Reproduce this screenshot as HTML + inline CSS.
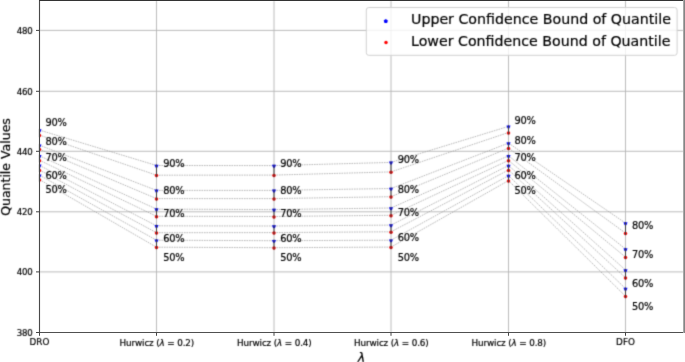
<!DOCTYPE html>
<html><head><meta charset="utf-8"><style>html,body{margin:0;padding:0;background:#fff;}svg{display:block;}</style></head>
<body><svg width="685" height="362" viewBox="0 0 685 362">
<rect x="0" y="0" width="685" height="362" fill="#fff"/>
<filter id="bl" x="0" y="0" width="685" height="362" filterUnits="userSpaceOnUse" color-interpolation-filters="sRGB"><feConvolveMatrix order="3" kernelMatrix="0.0225 0.1050 0.0225 0.1050 0.4900 0.1050 0.0225 0.1050 0.0225" divisor="1" edgeMode="none"/></filter><g filter="url(#bl)">
<path d="M39.50 0.4V332.2M156.50 0.4V332.2M274.00 0.4V332.2M391.00 0.4V332.2M508.50 0.4V332.2M625.50 0.4V332.2M39.5 271.90H683.6M39.5 211.80H683.6M39.5 151.30H683.6M39.5 91.30H683.6M39.5 30.40H683.6" stroke="#b4b4b4" stroke-width="0.9" fill="none"/>
<path d="M39.50 130.10L156.50 165.50M39.50 135.10L156.50 175.20M39.50 145.20L156.50 190.40M39.50 149.20L156.50 198.60M39.50 155.80L156.50 209.10M39.50 160.30L156.50 216.30M39.50 165.40L156.50 225.80M39.50 170.10L156.50 232.70M39.50 175.20L156.50 240.20M39.50 179.60L156.50 247.20M156.50 165.50L274.00 165.60M156.50 175.20L274.00 175.10M156.50 190.40L274.00 190.40M156.50 198.60L274.00 198.60M156.50 209.10L274.00 209.60M156.50 216.30L274.00 216.50M156.50 225.80L274.00 226.00M156.50 232.70L274.00 232.60M156.50 240.20L274.00 240.70M156.50 247.20L274.00 247.70M274.00 165.60L391.00 162.40M274.00 175.10L391.00 171.90M274.00 190.40L391.00 188.50M274.00 198.60L391.00 196.70M274.00 209.60L391.00 208.00M274.00 216.50L391.00 215.30M274.00 226.00L391.00 225.10M274.00 232.60L391.00 231.80M274.00 240.70L391.00 240.20M274.00 247.70L391.00 247.10M391.00 162.40L508.50 126.40M391.00 171.90L508.50 132.50M391.00 188.50L508.50 143.10M391.00 196.70L508.50 148.10M391.00 208.00L508.50 155.80M391.00 215.30L508.50 160.40M391.00 225.10L508.50 165.50M391.00 231.80L508.50 170.00M391.00 240.20L508.50 175.60M391.00 247.10L508.50 180.60M508.50 143.10L625.50 223.10M508.50 148.10L625.50 233.10M508.50 155.80L625.50 249.00M508.50 160.40L625.50 257.10M508.50 165.50L625.50 270.00M508.50 170.00L625.50 277.70M508.50 175.60L625.50 288.60M508.50 180.60L625.50 296.20" stroke="#9a9a9a" stroke-width="0.7" stroke-dasharray="1.6 0.9" fill="none"/>
<clipPath id="ax"><rect x="39.5" y="0" width="644.1" height="332.2"/></clipPath>
<g clip-path="url(#ax)">
<path d="M37.50 129.30H41.50L40.50 132.00L39.50 132.40L38.50 132.00Z" fill="#0000ff"/>
<circle cx="39.50" cy="135.5" r="1.75" fill="#ff0000"/>
<path d="M37.50 144.40H41.50L40.50 147.10L39.50 147.50L38.50 147.10Z" fill="#0000ff"/>
<circle cx="39.50" cy="149.6" r="1.75" fill="#ff0000"/>
<path d="M37.50 155.00H41.50L40.50 157.70L39.50 158.10L38.50 157.70Z" fill="#0000ff"/>
<circle cx="39.50" cy="160.7" r="1.75" fill="#ff0000"/>
<path d="M37.50 164.60H41.50L40.50 167.30L39.50 167.70L38.50 167.30Z" fill="#0000ff"/>
<circle cx="39.50" cy="170.5" r="1.75" fill="#ff0000"/>
<path d="M37.50 174.40H41.50L40.50 177.10L39.50 177.50L38.50 177.10Z" fill="#0000ff"/>
<circle cx="39.50" cy="180.0" r="1.75" fill="#ff0000"/>
<path d="M154.50 164.70H158.50L157.50 167.40L156.50 167.80L155.50 167.40Z" fill="#0000ff"/>
<circle cx="156.50" cy="175.6" r="1.75" fill="#ff0000"/>
<path d="M154.50 189.60H158.50L157.50 192.30L156.50 192.70L155.50 192.30Z" fill="#0000ff"/>
<circle cx="156.50" cy="199.0" r="1.75" fill="#ff0000"/>
<path d="M154.50 208.30H158.50L157.50 211.00L156.50 211.40L155.50 211.00Z" fill="#0000ff"/>
<circle cx="156.50" cy="216.7" r="1.75" fill="#ff0000"/>
<path d="M154.50 225.00H158.50L157.50 227.70L156.50 228.10L155.50 227.70Z" fill="#0000ff"/>
<circle cx="156.50" cy="233.1" r="1.75" fill="#ff0000"/>
<path d="M154.50 239.40H158.50L157.50 242.10L156.50 242.50L155.50 242.10Z" fill="#0000ff"/>
<circle cx="156.50" cy="247.6" r="1.75" fill="#ff0000"/>
<path d="M272.00 164.80H276.00L275.00 167.50L274.00 167.90L273.00 167.50Z" fill="#0000ff"/>
<circle cx="274.00" cy="175.5" r="1.75" fill="#ff0000"/>
<path d="M272.00 189.60H276.00L275.00 192.30L274.00 192.70L273.00 192.30Z" fill="#0000ff"/>
<circle cx="274.00" cy="199.0" r="1.75" fill="#ff0000"/>
<path d="M272.00 208.80H276.00L275.00 211.50L274.00 211.90L273.00 211.50Z" fill="#0000ff"/>
<circle cx="274.00" cy="216.9" r="1.75" fill="#ff0000"/>
<path d="M272.00 225.20H276.00L275.00 227.90L274.00 228.30L273.00 227.90Z" fill="#0000ff"/>
<circle cx="274.00" cy="233.0" r="1.75" fill="#ff0000"/>
<path d="M272.00 239.90H276.00L275.00 242.60L274.00 243.00L273.00 242.60Z" fill="#0000ff"/>
<circle cx="274.00" cy="248.1" r="1.75" fill="#ff0000"/>
<path d="M389.00 161.60H393.00L392.00 164.30L391.00 164.70L390.00 164.30Z" fill="#0000ff"/>
<circle cx="391.00" cy="172.3" r="1.75" fill="#ff0000"/>
<path d="M389.00 187.70H393.00L392.00 190.40L391.00 190.80L390.00 190.40Z" fill="#0000ff"/>
<circle cx="391.00" cy="197.1" r="1.75" fill="#ff0000"/>
<path d="M389.00 207.20H393.00L392.00 209.90L391.00 210.30L390.00 209.90Z" fill="#0000ff"/>
<circle cx="391.00" cy="215.7" r="1.75" fill="#ff0000"/>
<path d="M389.00 224.30H393.00L392.00 227.00L391.00 227.40L390.00 227.00Z" fill="#0000ff"/>
<circle cx="391.00" cy="232.2" r="1.75" fill="#ff0000"/>
<path d="M389.00 239.40H393.00L392.00 242.10L391.00 242.50L390.00 242.10Z" fill="#0000ff"/>
<circle cx="391.00" cy="247.5" r="1.75" fill="#ff0000"/>
<path d="M506.50 125.60H510.50L509.50 128.30L508.50 128.70L507.50 128.30Z" fill="#0000ff"/>
<circle cx="508.50" cy="132.9" r="1.75" fill="#ff0000"/>
<path d="M506.50 142.30H510.50L509.50 145.00L508.50 145.40L507.50 145.00Z" fill="#0000ff"/>
<circle cx="508.50" cy="148.5" r="1.75" fill="#ff0000"/>
<path d="M506.50 155.00H510.50L509.50 157.70L508.50 158.10L507.50 157.70Z" fill="#0000ff"/>
<circle cx="508.50" cy="160.8" r="1.75" fill="#ff0000"/>
<path d="M506.50 164.70H510.50L509.50 167.40L508.50 167.80L507.50 167.40Z" fill="#0000ff"/>
<circle cx="508.50" cy="170.4" r="1.75" fill="#ff0000"/>
<path d="M506.50 174.80H510.50L509.50 177.50L508.50 177.90L507.50 177.50Z" fill="#0000ff"/>
<circle cx="508.50" cy="181.0" r="1.75" fill="#ff0000"/>
<path d="M623.50 222.30H627.50L626.50 225.00L625.50 225.40L624.50 225.00Z" fill="#0000ff"/>
<circle cx="625.50" cy="233.5" r="1.75" fill="#ff0000"/>
<path d="M623.50 248.20H627.50L626.50 250.90L625.50 251.30L624.50 250.90Z" fill="#0000ff"/>
<circle cx="625.50" cy="257.5" r="1.75" fill="#ff0000"/>
<path d="M623.50 269.20H627.50L626.50 271.90L625.50 272.30L624.50 271.90Z" fill="#0000ff"/>
<circle cx="625.50" cy="278.1" r="1.75" fill="#ff0000"/>
<path d="M623.50 287.80H627.50L626.50 290.50L625.50 290.90L624.50 290.50Z" fill="#0000ff"/>
<circle cx="625.50" cy="296.6" r="1.75" fill="#ff0000"/>
</g>
<path d="M39.50 129.00V137.10M39.50 144.10V151.20M39.50 154.70V162.30M39.50 164.30V172.10M39.50 174.10V181.60M156.50 164.40V177.20M156.50 189.30V200.60M156.50 208.00V218.30M156.50 224.70V234.70M156.50 239.10V249.20M274.00 164.50V177.10M274.00 189.30V200.60M274.00 208.50V218.50M274.00 224.90V234.60M274.00 239.60V249.70M391.00 161.30V173.90M391.00 187.40V198.70M391.00 206.90V217.30M391.00 224.00V233.80M391.00 239.10V249.10M508.50 125.30V134.50M508.50 142.00V150.10M508.50 154.70V162.40M508.50 164.40V172.00M508.50 174.50V182.60M625.50 222.00V235.10M625.50 247.90V259.10M625.50 268.90V279.70M625.50 287.50V298.20" stroke="#3a3a3a" stroke-width="1" fill="none"/>
<text x="32.6" y="335.70" font-family="DejaVu Sans, Liberation Sans, sans-serif" stroke="#000" stroke-width="0.2" font-size="8.6" letter-spacing="-0.15" text-anchor="end" fill="#000">380</text>
<text x="32.6" y="275.10" font-family="DejaVu Sans, Liberation Sans, sans-serif" stroke="#000" stroke-width="0.2" font-size="8.6" letter-spacing="-0.15" text-anchor="end" fill="#000">400</text>
<text x="32.6" y="215.00" font-family="DejaVu Sans, Liberation Sans, sans-serif" stroke="#000" stroke-width="0.2" font-size="8.6" letter-spacing="-0.15" text-anchor="end" fill="#000">420</text>
<text x="32.6" y="154.50" font-family="DejaVu Sans, Liberation Sans, sans-serif" stroke="#000" stroke-width="0.2" font-size="8.6" letter-spacing="-0.15" text-anchor="end" fill="#000">440</text>
<text x="32.6" y="94.50" font-family="DejaVu Sans, Liberation Sans, sans-serif" stroke="#000" stroke-width="0.2" font-size="8.6" letter-spacing="-0.15" text-anchor="end" fill="#000">460</text>
<text x="32.6" y="33.60" font-family="DejaVu Sans, Liberation Sans, sans-serif" stroke="#000" stroke-width="0.2" font-size="8.6" letter-spacing="-0.15" text-anchor="end" fill="#000">480</text>
<text x="39.50" y="345.4" font-family="DejaVu Sans, Liberation Sans, sans-serif" stroke="#000" stroke-width="0.2" font-size="8.8" text-anchor="middle" fill="#000">DRO</text>
<text x="119.60" y="346.4" font-family="DejaVu Sans, Liberation Sans, sans-serif" stroke="#000" stroke-width="0.2" font-size="8.8" textLength="74.6" lengthAdjust="spacing" fill="#000">Hurwicz (<tspan font-style="italic">λ</tspan> = 0.2)</text>
<text x="237.10" y="346.4" font-family="DejaVu Sans, Liberation Sans, sans-serif" stroke="#000" stroke-width="0.2" font-size="8.8" textLength="74.6" lengthAdjust="spacing" fill="#000">Hurwicz (<tspan font-style="italic">λ</tspan> = 0.4)</text>
<text x="354.10" y="346.4" font-family="DejaVu Sans, Liberation Sans, sans-serif" stroke="#000" stroke-width="0.2" font-size="8.8" textLength="74.6" lengthAdjust="spacing" fill="#000">Hurwicz (<tspan font-style="italic">λ</tspan> = 0.6)</text>
<text x="471.60" y="346.4" font-family="DejaVu Sans, Liberation Sans, sans-serif" stroke="#000" stroke-width="0.2" font-size="8.8" textLength="74.6" lengthAdjust="spacing" fill="#000">Hurwicz (<tspan font-style="italic">λ</tspan> = 0.8)</text>
<text x="625.50" y="345.4" font-family="DejaVu Sans, Liberation Sans, sans-serif" stroke="#000" stroke-width="0.2" font-size="8.8" text-anchor="middle" fill="#000">DFO</text>
<text transform="translate(9.9 167) rotate(-90)" font-family="DejaVu Sans, Liberation Sans, sans-serif" stroke="#000" stroke-width="0.2" font-size="12.5" text-anchor="middle" fill="#000">Quantile Values</text>
<text x="361.5" y="361.6" font-family="DejaVu Sans, Liberation Sans, sans-serif" stroke="#000" stroke-width="0.2" font-size="12.5" font-style="italic" text-anchor="middle" fill="#000">λ</text>
<text x="45.50" y="126.30" font-family="DejaVu Sans, Liberation Sans, sans-serif" stroke="#000" stroke-width="0.2" font-size="9.85" letter-spacing="-0.25" fill="#000">90%</text>
<text x="45.50" y="144.80" font-family="DejaVu Sans, Liberation Sans, sans-serif" stroke="#000" stroke-width="0.2" font-size="9.85" letter-spacing="-0.25" fill="#000">80%</text>
<text x="45.50" y="160.90" font-family="DejaVu Sans, Liberation Sans, sans-serif" stroke="#000" stroke-width="0.2" font-size="9.85" letter-spacing="-0.25" fill="#000">70%</text>
<text x="45.50" y="179.20" font-family="DejaVu Sans, Liberation Sans, sans-serif" stroke="#000" stroke-width="0.2" font-size="9.85" letter-spacing="-0.25" fill="#000">60%</text>
<text x="45.50" y="193.10" font-family="DejaVu Sans, Liberation Sans, sans-serif" stroke="#000" stroke-width="0.2" font-size="9.85" letter-spacing="-0.25" fill="#000">50%</text>
<text x="163.20" y="166.60" font-family="DejaVu Sans, Liberation Sans, sans-serif" stroke="#000" stroke-width="0.2" font-size="9.85" letter-spacing="-0.25" fill="#000">90%</text>
<text x="163.20" y="194.20" font-family="DejaVu Sans, Liberation Sans, sans-serif" stroke="#000" stroke-width="0.2" font-size="9.85" letter-spacing="-0.25" fill="#000">80%</text>
<text x="163.20" y="217.00" font-family="DejaVu Sans, Liberation Sans, sans-serif" stroke="#000" stroke-width="0.2" font-size="9.85" letter-spacing="-0.25" fill="#000">70%</text>
<text x="163.20" y="241.70" font-family="DejaVu Sans, Liberation Sans, sans-serif" stroke="#000" stroke-width="0.2" font-size="9.85" letter-spacing="-0.25" fill="#000">60%</text>
<text x="163.20" y="261.10" font-family="DejaVu Sans, Liberation Sans, sans-serif" stroke="#000" stroke-width="0.2" font-size="9.85" letter-spacing="-0.25" fill="#000">50%</text>
<text x="280.20" y="166.60" font-family="DejaVu Sans, Liberation Sans, sans-serif" stroke="#000" stroke-width="0.2" font-size="9.85" letter-spacing="-0.25" fill="#000">90%</text>
<text x="280.20" y="194.20" font-family="DejaVu Sans, Liberation Sans, sans-serif" stroke="#000" stroke-width="0.2" font-size="9.85" letter-spacing="-0.25" fill="#000">80%</text>
<text x="280.20" y="217.00" font-family="DejaVu Sans, Liberation Sans, sans-serif" stroke="#000" stroke-width="0.2" font-size="9.85" letter-spacing="-0.25" fill="#000">70%</text>
<text x="280.20" y="241.70" font-family="DejaVu Sans, Liberation Sans, sans-serif" stroke="#000" stroke-width="0.2" font-size="9.85" letter-spacing="-0.25" fill="#000">60%</text>
<text x="280.20" y="261.10" font-family="DejaVu Sans, Liberation Sans, sans-serif" stroke="#000" stroke-width="0.2" font-size="9.85" letter-spacing="-0.25" fill="#000">50%</text>
<text x="397.70" y="163.30" font-family="DejaVu Sans, Liberation Sans, sans-serif" stroke="#000" stroke-width="0.2" font-size="9.85" letter-spacing="-0.25" fill="#000">90%</text>
<text x="397.70" y="192.50" font-family="DejaVu Sans, Liberation Sans, sans-serif" stroke="#000" stroke-width="0.2" font-size="9.85" letter-spacing="-0.25" fill="#000">80%</text>
<text x="397.70" y="215.80" font-family="DejaVu Sans, Liberation Sans, sans-serif" stroke="#000" stroke-width="0.2" font-size="9.85" letter-spacing="-0.25" fill="#000">70%</text>
<text x="397.70" y="241.00" font-family="DejaVu Sans, Liberation Sans, sans-serif" stroke="#000" stroke-width="0.2" font-size="9.85" letter-spacing="-0.25" fill="#000">60%</text>
<text x="397.70" y="261.10" font-family="DejaVu Sans, Liberation Sans, sans-serif" stroke="#000" stroke-width="0.2" font-size="9.85" letter-spacing="-0.25" fill="#000">50%</text>
<text x="514.50" y="124.20" font-family="DejaVu Sans, Liberation Sans, sans-serif" stroke="#000" stroke-width="0.2" font-size="9.85" letter-spacing="-0.25" fill="#000">90%</text>
<text x="514.50" y="144.00" font-family="DejaVu Sans, Liberation Sans, sans-serif" stroke="#000" stroke-width="0.2" font-size="9.85" letter-spacing="-0.25" fill="#000">80%</text>
<text x="514.50" y="160.50" font-family="DejaVu Sans, Liberation Sans, sans-serif" stroke="#000" stroke-width="0.2" font-size="9.85" letter-spacing="-0.25" fill="#000">70%</text>
<text x="514.50" y="179.10" font-family="DejaVu Sans, Liberation Sans, sans-serif" stroke="#000" stroke-width="0.2" font-size="9.85" letter-spacing="-0.25" fill="#000">60%</text>
<text x="514.50" y="194.00" font-family="DejaVu Sans, Liberation Sans, sans-serif" stroke="#000" stroke-width="0.2" font-size="9.85" letter-spacing="-0.25" fill="#000">50%</text>
<text x="631.90" y="228.80" font-family="DejaVu Sans, Liberation Sans, sans-serif" stroke="#000" stroke-width="0.2" font-size="9.85" letter-spacing="-0.25" fill="#000">80%</text>
<text x="631.90" y="257.80" font-family="DejaVu Sans, Liberation Sans, sans-serif" stroke="#000" stroke-width="0.2" font-size="9.85" letter-spacing="-0.25" fill="#000">70%</text>
<text x="631.90" y="287.00" font-family="DejaVu Sans, Liberation Sans, sans-serif" stroke="#000" stroke-width="0.2" font-size="9.85" letter-spacing="-0.25" fill="#000">60%</text>
<text x="631.90" y="309.60" font-family="DejaVu Sans, Liberation Sans, sans-serif" stroke="#000" stroke-width="0.2" font-size="9.85" letter-spacing="-0.25" fill="#000">50%</text>
<rect x="366.3" y="7.5" width="310.8" height="47.8" rx="2.5" fill="#fff" fill-opacity="0.8" stroke="#d0d0d0" stroke-width="1"/>
<path d="M385.8 18.9L387.9 20.5L387.1 23H384.5L383.7 20.5Z" fill="#0000ff"/>
<circle cx="386" cy="42.5" r="1.75" fill="#ff0000"/>
<text x="411" y="24.0" font-family="DejaVu Sans, Liberation Sans, sans-serif" stroke="#000" stroke-width="0.2" font-size="14.2" fill="#000">Upper Confidence Bound of Quantile</text>
<text x="411" y="46.4" font-family="DejaVu Sans, Liberation Sans, sans-serif" stroke="#000" stroke-width="0.2" font-size="14.2" fill="#000">Lower Confidence Bound of Quantile</text>
</g>
<path d="M39.5 0V333" stroke="#4a4a4a" stroke-width="1"/>
<path d="M39 0.5H685" stroke="#333" stroke-width="1"/>
<path d="M39 332.5H685" stroke="#505050" stroke-width="1"/>
<rect x="683" y="0" width="1" height="333" fill="#a8a8a8"/><rect x="684" y="0" width="1" height="333" fill="#858585"/>
<path d="M36.0 332.50H39.5M36.0 271.90H39.5M36.0 211.80H39.5M36.0 151.30H39.5M36.0 91.30H39.5M36.0 30.40H39.5M39.50 332.5V335.8M156.50 332.5V335.8M274.00 332.5V335.8M391.00 332.5V335.8M508.50 332.5V335.8M625.50 332.5V335.8" stroke="#444" stroke-width="1" fill="none"/>
</svg></body></html>
